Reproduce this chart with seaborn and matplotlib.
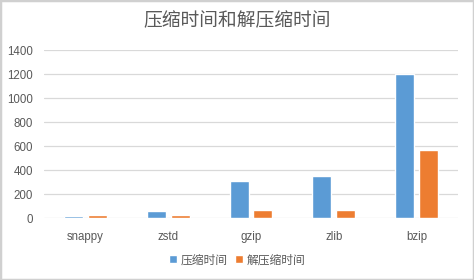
import matplotlib
matplotlib.use('Agg')
import matplotlib.pyplot as plt
import seaborn as sns
import pandas as pd
from matplotlib.patches import Rectangle

# data
algorithms = ['snappy', 'zstd', 'gzip', 'zlib', 'bzip']
compress_time = [14, 58, 308, 353, 1198]
decompress_time = [30, 30, 70, 67, 567]
series_names = ['压缩时间', '解压缩时间']
y_ticks = [0, 200, 400, 600, 800, 1000, 1200, 1400]

df = pd.DataFrame({
    'algo': algorithms * 2,
    'time': compress_time + decompress_time,
    'kind': [series_names[0]] * len(algorithms) + [series_names[1]] * len(algorithms),
})

sns.set_theme(style='white')
plt.rcParams['font.family'] = ['Liberation Sans', 'Noto Sans CJK SC', 'DejaVu Sans']

fig = plt.figure(figsize=(4.74, 2.80), dpi=100)
ax = fig.add_axes([0.093, 0.221, 0.873, 0.600])

palette = {series_names[0]: '#5B9BD5', series_names[1]: '#ED7D31'}
sns.barplot(data=df, x='algo', y='time', hue='kind', palette=palette,
            width=0.576, gap=0.2, saturation=1, ax=ax, legend=True)

ax.set_ylim(0, 1400)
ax.set_yticks(y_ticks)
ax.yaxis.grid(True, color='#D9D9D9', linewidth=0.9)
ax.set_axisbelow(True)
for s in ax.spines.values():
    s.set_visible(False)
ax.set_xlabel('')
ax.set_ylabel('')
ax.tick_params(axis='both', length=0, labelsize=8.3, labelcolor='#595959')
ax.tick_params(axis='y', pad=8)
ax.tick_params(axis='x', pad=9)

fig.text(0.5, 0.925, '压缩时间和解压缩时间', ha='center', va='center',
         fontsize=13.5, color='#595959', family=['Noto Sans CJK SC'])

handles, labels = ax.get_legend_handles_labels()
ax.legend_.remove()
leg = fig.legend(handles, labels, loc='center', bbox_to_anchor=(0.5, 0.07),
                 ncol=2, frameon=False, fontsize=8.5, handlelength=0.7,
                 handleheight=0.7, handletextpad=0.3, columnspacing=0.6)
for t in leg.get_texts():
    t.set_color('#595959')

fig.patches.append(Rectangle((0, 0), 1, 1, transform=fig.transFigure,
                             fill=False, edgecolor='#D0D0D0', linewidth=2.5))

fig.savefig('out.png', dpi=100)
